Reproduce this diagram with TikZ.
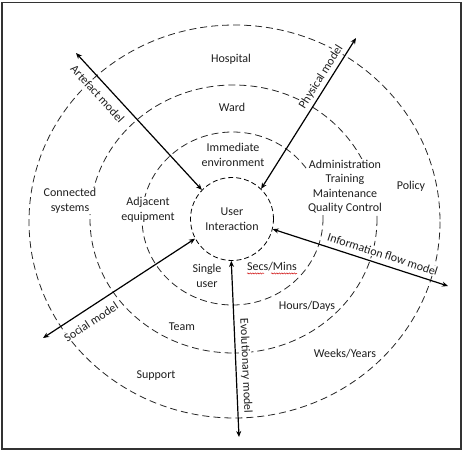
\documentclass[tikz,border=0pt]{standalone}
\usepackage{fontspec}
\setmainfont{Carlito}
\usetikzlibrary{calc}
\usetikzlibrary{positioning}
\usetikzlibrary{arrows.meta}
\usetikzlibrary{decorations.pathmorphing}
\tikzstyle{zone} = [fill=white, inner sep=1pt, align=center, text=black!88, font=\fontsize{12}{14.5}\selectfont]
\tikzstyle{ringline} = [dash pattern=on 7pt off 4pt, line width=0.8pt, black!85]
\tikzstyle{model} = [{Stealth[length=6pt,width=5pt]}-{Stealth[length=6pt,width=5pt]}, line width=1.2pt]
\tikzstyle{modellbl} = [fill=white, inner sep=1pt, sloped, text=black!88, font=\fontsize{12}{14.5}\selectfont]
\tikzstyle{squiggle} = [red!80!black, line width=0.4pt, decorate, decoration={snake, amplitude=0.6pt, segment length=2.5pt}]

\begin{document}
\begin{tikzpicture}[x=1pt, y=-1pt]
    \useasboundingbox (0,0) rectangle (474,466);
    \draw[line width=1.3pt, black!80] (2,2.5) rectangle (461,449);
    % centre and rings
    \node[draw, circle, dash pattern=on 5pt off 3pt, line width=0.8pt, minimum size=83pt, inner sep=0pt, align=center, text=black!88, font=\fontsize{12}{14.5}\selectfont] (user_int) at (232,219) {User\\Interaction};
    \draw[ringline] ($(user_int)+(0.5,-0.5)$) ellipse [x radius=90.5, y radius=86.5];
    \draw[ringline] ($(user_int)+(1.5,0)$) ellipse [x radius=143.5, y radius=134];
    \draw[ringline] ($(user_int)+(2.5,2.5)$) ellipse [x radius=205.5, y radius=196.5];
    % model arrows
    \coordinate (artefact_end) at ($(user_int)+(-156,-166)$);
    \coordinate (physical_end) at ($(user_int)+(124,-181)$);
    \coordinate (info_end) at ($(user_int)+(216,67)$);
    \coordinate (evol_end) at ($(user_int)+(7,218)$);
    \coordinate (social_end) at ($(user_int)+(-189,119)$);
    \draw[model] (artefact_end) -- (user_int.136) node[modellbl, below=6pt, pos=0.24] (lbl_artefact) {Artefact model};
    \draw[model] (user_int.46) -- (physical_end) node[modellbl, above=2pt, pos=0.71] (lbl_physical) {Physical model};
    \draw[model] (user_int.-14) -- (info_end) node[modellbl, above=4.5pt, pos=0.61] (lbl_info) {Information flow model};
    \draw[model] (user_int.-91) -- (evol_end) node[modellbl, above=3pt, pos=0.6] (lbl_evol) {Evolutionary model};
    \draw[model] (user_int.208) -- (social_end) node[modellbl, below=7pt, pos=0.73] (lbl_social) {Social model};
    % zone labels
    \node[zone] (zone_hospital) at ($(user_int)+(-1,-160)$) {Hospital};
    \node[zone] (zone_ward) at ($(user_int)+(0,-112)$) {Ward};
    \node[zone] (zone_immediate) at ($(user_int)+(1,-64)$) {Immediate\\environment};
    \node[zone] (zone_admin) at ($(user_int)+(113,-32)$) {Administration\\Training\\Maintenance\\Quality Control};
    \node[zone] (zone_policy) at ($(user_int)+(179,-33)$) {Policy};
    \node[zone] (zone_connected) at ($(user_int)+(-162,-18)$) {Connected\\systems};
    \node[zone] (zone_adjacent) at ($(user_int)+(-84,-9)$) {Adjacent\\equipment};
    \node[zone] (zone_single) at ($(user_int)+(-25,57)$) {Single\\user};
    \node[zone] (zone_secs) at ($(user_int)+(40,48)$) {Secs/Mins};
    \node[zone] (zone_hours) at ($(user_int)+(75,87)$) {Hours/Days};
    \node[zone] (zone_team) at ($(user_int)+(-50,108)$) {Team};
    \node[zone] (zone_weeks) at ($(user_int)+(113,135)$) {Weeks/Years};
    \node[zone] (zone_support) at ($(user_int)+(-76,157)$) {Support};
    \draw[squiggle] ($(zone_secs.base)+(-25,2.5)$) -- ++(17,0);
    \draw[squiggle] ($(zone_secs.base)+(-1,2.5)$) -- ++(26,0);
\end{tikzpicture}
\end{document}
